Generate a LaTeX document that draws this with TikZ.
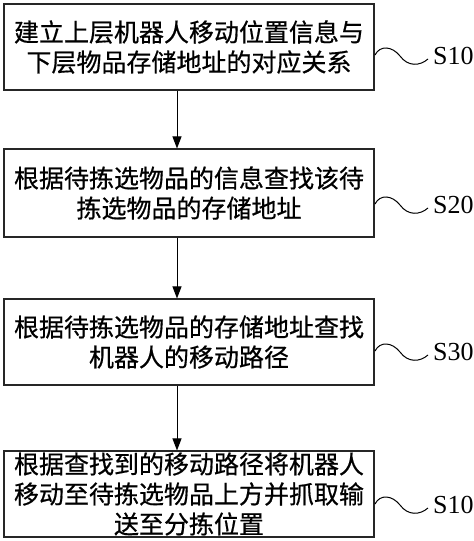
\documentclass[tikz,border=0pt]{standalone}
\usepackage{fontspec}
\setmainfont{Liberation Serif}
\newfontfamily\cjk[FakeBold=0.6]{Noto Sans CJK SC}
\usetikzlibrary{arrows.meta,positioning,calc}
\begin{document}
\begin{tikzpicture}[x=1pt,y=1pt,
  stepbox/.style={draw=black!85,line width=1.1pt,minimum width=370pt,align=center,inner sep=0pt,
    font=\cjk\fontsize{25}{30}\selectfont},
  flow/.style={line width=1pt,-{Triangle[length=12pt,width=9pt]}},
  wave/.style={line width=1pt},
  lbl/.style={anchor=west,font=\fontsize{26}{26}\selectfont,inner sep=0pt}]
\useasboundingbox (0,0) rectangle (474,-541);
\node[stepbox,minimum height=86pt] (b1) at (189,-47) {建立上层机器人移动位置信息与\\下层物品存储地址的对应关系};
\node[stepbox,minimum height=88pt] (b2) at (189,-193) {根据待拣选物品的信息查找该待\\拣选物品的存储地址};
\node[stepbox,minimum height=86pt] (b3) at (189,-342) {根据待拣选物品的存储地址查找\\机器人的移动路径};
\node[stepbox,minimum height=86pt] (b4) at (189,-494) {根据查找到的移动路径将机器人\\移动至待拣选物品上方并抓取输\\送至分拣位置};
\coordinate (ax) at (177,0);
\draw[flow] (b1.south -| ax) -- (b2.north -| ax);
\draw[flow] (b2.south -| ax) -- (b3.north -| ax);
\draw[flow] (b3.south -| ax) -- (b4.north -| ax);
\foreach \b/\t/\L in {b1/S10/56,b2/S20/205,b3/S30/352,b4/S10/505}{
  \coordinate (w\b) at (375,-\L+1);
  \draw[wave] (w\b) .. controls +(5,10) and +(-8,10) .. ++(25,-1) .. controls +(8,-11) and +(-8,-7) .. ++(28,-3) coordinate (e\b);
  \node[lbl] (l\b) at ($(e\b)+(5,3)$) {\t};
}
\end{tikzpicture}
\end{document}
